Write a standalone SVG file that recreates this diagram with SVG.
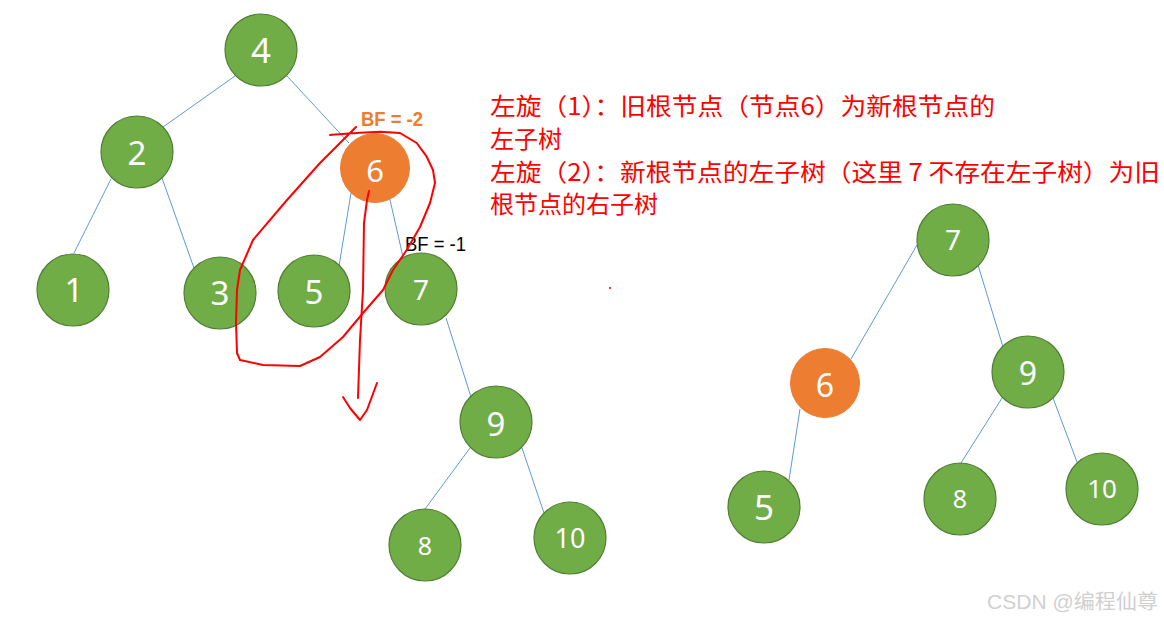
<svg xmlns="http://www.w3.org/2000/svg" width="1164" height="621" viewBox="0 0 1164 621">
<style>
.n{fill:#70AD47;stroke:#507E32;stroke-width:1.2}
.o{fill:#ED7D31;stroke:#ED7D31;stroke-width:1}
.t{fill:#fff;font-family:"Noto Sans","Open Sans",sans-serif;text-anchor:middle}
.e line{stroke:#5B9BD5;stroke-width:1}
.cn{fill:#FF0000;font-family:"Noto Sans CJK SC","Noto Sans",sans-serif;font-size:24px}
.ink{fill:none;stroke:#FF0000;stroke-width:2;stroke-linecap:round;stroke-linejoin:round}
</style>
<rect width="1164" height="621" fill="#fff"/>
<g id="connectors" class="e">
<line x1="235" y1="76" x2="163" y2="127"/>
<line x1="287" y1="76" x2="349" y2="143"/>
<line x1="111" y1="179" x2="74" y2="253"/>
<line x1="162" y1="178" x2="194" y2="268"/>
<line x1="351" y1="193" x2="339" y2="266"/>
<line x1="388" y1="191" x2="403" y2="257"/>
<line x1="446" y1="318" x2="471" y2="397"/>
<line x1="470" y1="448" x2="425" y2="509"/>
<line x1="522" y1="448" x2="544" y2="513"/>
<line x1="917" y1="245" x2="851" y2="359"/>
<line x1="978" y1="265" x2="1003" y2="347"/>
<line x1="800" y1="409" x2="789" y2="480"/>
<line x1="1002" y1="398" x2="961" y2="463"/>
<line x1="1053" y1="398" x2="1077" y2="462"/>
</g>
<g id="L4"><circle class="n" cx="261" cy="50" r="36"/><text class="t" x="261" y="63" font-size="35">4</text></g>
<g id="L2"><circle class="n" cx="137" cy="152" r="36"/><text class="t" x="137" y="165" font-size="33">2</text></g>
<g id="L1"><circle class="n" cx="73" cy="290" r="36"/><text class="t" x="74" y="302" font-size="33">1</text></g>
<g id="L3"><circle class="n" cx="220" cy="293" r="36"/><text class="t" x="220" y="305" font-size="33">3</text></g>
<g id="L5"><circle class="n" cx="314" cy="291" r="36"/><text class="t" x="314" y="304" font-size="33">5</text></g>
<g id="L6"><circle class="o" cx="375" cy="168" r="34.5"/><text class="t" x="375" y="182" font-size="31">6</text></g>
<g id="L7"><circle class="n" cx="421" cy="289" r="36"/><text class="t" x="421" y="300" font-size="28">7</text></g>
<g id="L9"><circle class="n" cx="496" cy="422" r="36"/><text class="t" x="496" y="436" font-size="33">9</text></g>
<g id="L8"><circle class="n" cx="425" cy="545" r="36"/><text class="t" x="425" y="555" font-size="25">8</text></g>
<g id="L10"><circle class="n" cx="570" cy="538" r="36"/><text class="t" x="570" y="548" font-size="27">10</text></g>
<g id="R7"><circle class="n" cx="953" cy="240" r="36"/><text class="t" x="953" y="250" font-size="28">7</text></g>
<g id="R6"><circle class="o" cx="825" cy="383" r="34.5"/><text class="t" x="825" y="397" font-size="32">6</text></g>
<g id="R9"><circle class="n" cx="1028" cy="372" r="36"/><text class="t" x="1028" y="385" font-size="32">9</text></g>
<g id="R5"><circle class="n" cx="764" cy="507" r="36"/><text class="t" x="764" y="520" font-size="35">5</text></g>
<g id="R8"><circle class="n" cx="960" cy="499" r="36"/><text class="t" x="960" y="508" font-size="25">8</text></g>
<g id="R10"><circle class="n" cx="1102" cy="489" r="36"/><text class="t" x="1102" y="498" font-size="26">10</text></g>
<g id="labels">
<text x="361" y="125.5" font-family="Liberation Sans, sans-serif" font-weight="bold" font-size="21" fill="#ED7D31" textLength="62" lengthAdjust="spacingAndGlyphs">BF = -2</text>
<text x="405" y="250.5" font-family="Liberation Sans, sans-serif" font-size="21" fill="#000" textLength="61" lengthAdjust="spacingAndGlyphs">BF = -1</text>
<text class="cn" x="490" y="115" textLength="505" lengthAdjust="spacingAndGlyphs">左旋（1）：旧根节点（节点6）为新根节点的</text>
<text class="cn" x="490" y="148">左子树</text>
<text class="cn" x="490" y="181" textLength="670" lengthAdjust="spacingAndGlyphs">左旋（2）：新根节点的左子树（这里 7 不存在左子树）为旧</text>
<text class="cn" x="490" y="213">根节点的右子树</text>
<text x="987" y="609" font-family="Liberation Sans, 'Noto Sans CJK SC', sans-serif" font-size="20" fill="#D0D0D0" textLength="171" lengthAdjust="spacingAndGlyphs">CSDN @编程仙尊</text>
</g>
<g id="ink">
<path class="ink" d="M330 135 C345 134 355 133 360 132.7 L380 131.7 L400 133 L416.7 143 L426.7 156.7 L433 170 L435 183 L430 203 L420 227 L406.7 250 L393 270 L383 290 L363 313 L343 337 L320 357 L300 366 L263 365 L240 360 L237 353 L236 323 L237 290 L240 270 L253 240 L287 200 L320 163 L356 127"/>
<path class="ink" d="M369 191 L367 200 L364 223 L363 290 L360 340 L358 398"/>
<path class="ink" d="M343 397 L350 408 L360 420 L367 410 L377 383"/>
<rect x="609" y="287" width="2" height="2" fill="#FF3333"/>
</g>
</svg>
